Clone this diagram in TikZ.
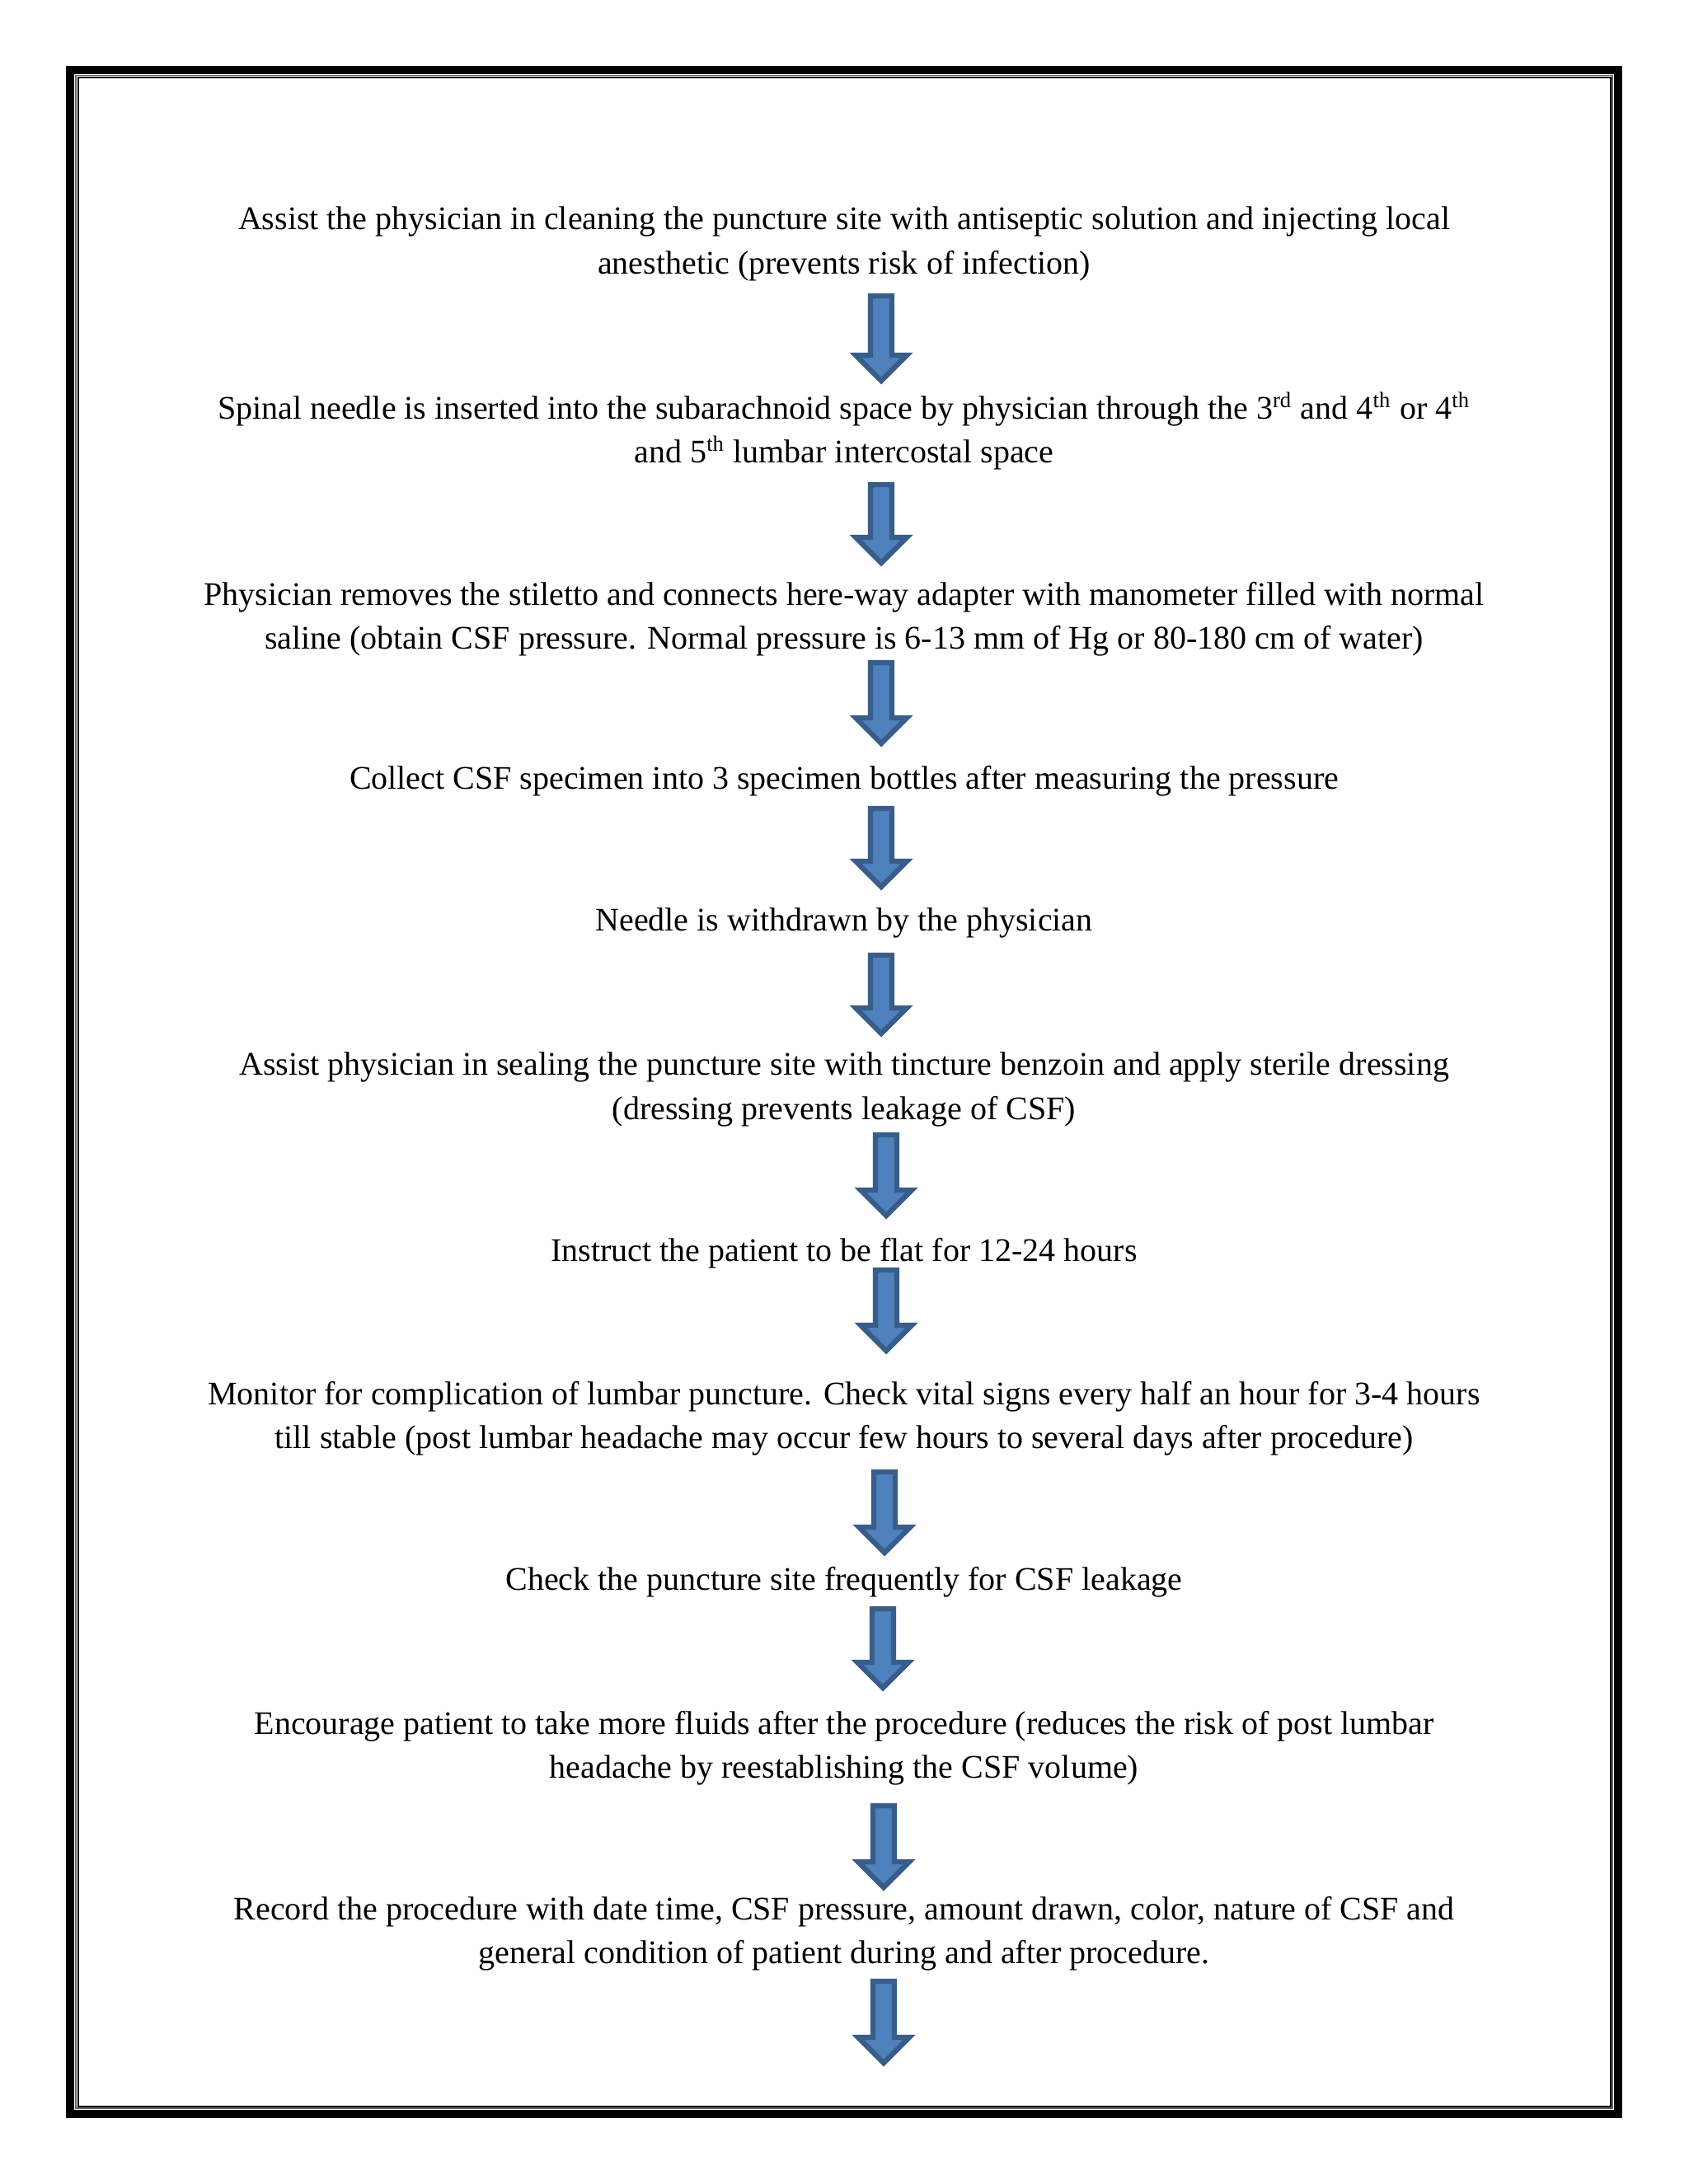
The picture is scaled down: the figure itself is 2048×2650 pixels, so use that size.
\documentclass[tikz,border=0pt]{standalone}
\usepackage{fontspec}
\setmainfont{Liberation Serif}
\definecolor{arrfill}{RGB}{79,129,189}
\definecolor{arrdraw}{RGB}{56,93,138}
\newcommand{\blockarrow}[3]{% x, top, tip
  \draw[blockarrowstyle]
    ({#1-13},{#2+3}) -- ({#1+13},{#2+3}) -- ({#1+13},{#3-36})
    -- ({#1+31},{#3-36}) -- ({#1},{#3-5}) -- ({#1-31},{#3-36})
    -- ({#1-13},{#3-36}) -- cycle;}
\begin{document}
\begin{tikzpicture}[x=0.00415in,y=-0.00415in,
  txt/.style={align=center,inner sep=0pt,font=\fontsize{12}{16}\selectfont},
  blockarrowstyle/.style={fill=arrfill,draw=arrdraw,line width=1.9pt,line join=miter}]
\useasboundingbox (0,0) rectangle (2048,2650);
% page border
\draw[line width=3pt] (85,84.5) rectangle (1963,2565);
\draw[line width=0.45pt,black!60] (91.8,91.3) rectangle (1956.2,2558.2);
\draw[line width=0.6pt] (94.5,94) rectangle (1953.5,2555.5);
% steps
\node[txt] (s1) at (1024,296) {Assist the physician in cleaning the puncture site with antiseptic solution and injecting local\\anesthetic (prevents risk of infection)};
\node[txt] (s2) at (1024,523) {Spinal needle is inserted into the subarachnoid space by physician through the 3\textsuperscript{rd} and 4\textsuperscript{th} or 4\textsuperscript{th}\\and 5\textsuperscript{th} lumbar intercostal space};
\node[txt] (s3) at (1024,751) {Physician removes the stiletto and connects here-way adapter with manometer filled with normal\\saline (obtain CSF pressure. Normal pressure is 6-13 mm of Hg or 80-180 cm of water)};
\node[txt] (s4) at (1024,948) {Collect CSF specimen into 3 specimen bottles after measuring the pressure};
\node[txt] (s5) at (1024,1120) {Needle is withdrawn by the physician};
\node[txt] (s6) at (1024,1322) {Assist physician in sealing the puncture site with tincture benzoin and apply sterile dressing\\(dressing prevents leakage of CSF)};
\node[txt] (s7) at (1024,1521) {Instruct the patient to be flat for 12-24 hours};
\node[txt] (s8) at (1024,1721) {Monitor for complication of lumbar puncture. Check vital signs every half an hour for 3-4 hours\\till stable (post lumbar headache may occur few hours to several days after procedure)};
\node[txt] (s9) at (1024,1920) {Check the puncture site frequently for CSF leakage};
\node[txt] (s10) at (1024,2121) {Encourage patient to take more fluids after the procedure (reduces the risk of post lumbar\\headache by reestablishing the CSF volume)};
\node[txt] (s11) at (1024,2346) {Record the procedure with date time, CSF pressure, amount drawn, color, nature of CSF and\\general condition of patient during and after procedure.};
% block arrows
\blockarrow{1069}{356}{467}
\blockarrow{1069}{585}{688}
\blockarrow{1069}{801}{907}
\blockarrow{1069}{978}{1081}
\blockarrow{1069}{1156}{1259}
\blockarrow{1075}{1374}{1480}
\blockarrow{1075}{1538}{1644}
\blockarrow{1073}{1783}{1889}
\blockarrow{1071}{1949}{2053}
\blockarrow{1072}{2188}{2295}
\blockarrow{1072}{2401}{2508}
\end{tikzpicture}
\end{document}
